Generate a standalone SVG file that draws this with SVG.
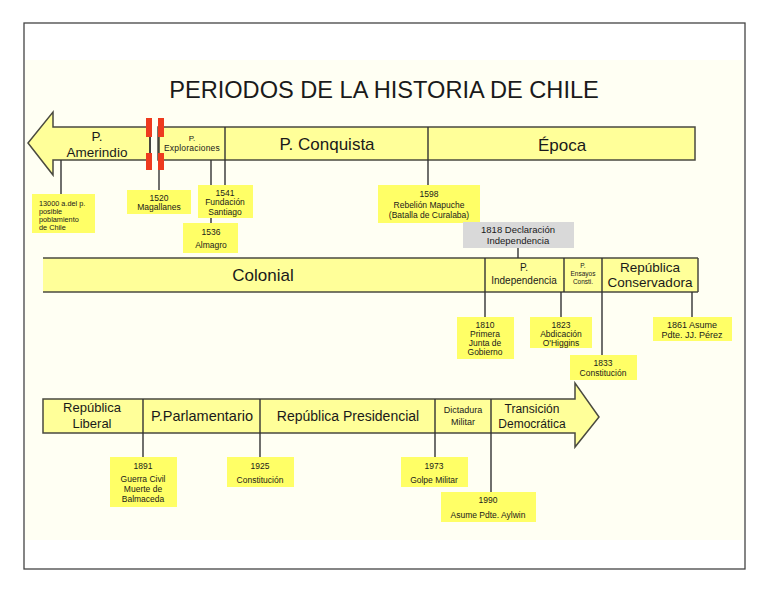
<svg xmlns="http://www.w3.org/2000/svg" width="768" height="594" viewBox="0 0 768 594">
<style>
text{font-family:"Liberation Sans",Arial,sans-serif;fill:#1a1a1a}
.band{fill:#FFFF99;stroke:#4a4a40;stroke-width:1.5}
.bandfill{fill:#FFFF99}
.edge{stroke:#4a4a40;stroke-width:1.5}
.box{fill:#FFFF66}
.gbox{fill:#D9D9D9}
.ln{stroke:#333;stroke-width:1.4}
.red{fill:#EE3A1E}
.ev{font-size:8.5px;text-anchor:middle}
.c{text-anchor:middle}
</style>
<rect x="0" y="0" width="768" height="594" fill="#ffffff"/>
<rect x="25" y="60" width="719" height="480" fill="#FFFFF3"/>
<rect x="24" y="23" width="721" height="546" fill="none" stroke="#444" stroke-width="1.3"/>
<text x="384" y="98" class="c" font-size="23.6">PERIODOS DE LA HISTORIA DE CHILE</text>

<g id="band-top">
<polygon class="band" points="150,127 53,127 53,112 28,143 53,175 53,160 150,160"/>
<rect class="band" x="158" y="127" width="537" height="33"/>
<text x="97" y="141" class="c" font-size="13.5">P.</text>
<text x="97" y="157" class="c" font-size="13.5">Amerindio</text>
<text x="192" y="141" class="c" font-size="8">P.</text>
<text x="192" y="151" class="c" font-size="8.5" letter-spacing="0.2">Exploraciones</text>
<text x="327" y="150" class="c" font-size="17">P. Conquista</text>
<text x="562" y="151" class="c" font-size="17">Época</text>
</g>

<g id="band-middle">
<rect class="bandfill" x="43" y="258" width="655" height="34"/>
<line class="edge" x1="43" y1="258" x2="698" y2="258"/>
<line class="edge" x1="43" y1="292" x2="698" y2="292"/>
<line class="edge" x1="698" y1="258" x2="698" y2="292"/>
<text x="263" y="281" class="c" font-size="17">Colonial</text>
<text x="524" y="271" class="c" font-size="10">P.</text>
<text x="524" y="284" class="c" font-size="10">Independencia</text>
<text x="583" y="268" class="c" font-size="6.5">P.</text>
<text x="583" y="276" class="c" font-size="6.5">Ensayos</text>
<text x="583" y="284" class="c" font-size="6.5">Consti.</text>
<text x="650" y="272" class="c" font-size="13.5">República</text>
<text x="650" y="287" class="c" font-size="13.5">Conservadora</text>
</g>

<g id="band-bottom">
<polygon class="band" points="43,399 575,399 575,383 599,417 575,447 575,433 43,433"/>
<text x="92" y="412" class="c" font-size="13">República</text>
<text x="92" y="428" class="c" font-size="13">Liberal</text>
<text x="202" y="421" class="c" font-size="14.5">P.Parlamentario</text>
<text x="348" y="421" class="c" font-size="14">República Presidencial</text>
<text x="463" y="413" class="c" font-size="9">Dictadura</text>
<text x="463" y="425" class="c" font-size="9">Militar</text>
<text x="532" y="413" class="c" font-size="12">Transición</text>
<text x="532" y="428" class="c" font-size="12">Democrática</text>
</g>

<g id="connectors">
<line class="ln" x1="150" y1="127" x2="150" y2="160"/>
<line class="ln" x1="159" y1="127" x2="159" y2="190"/>
<line class="ln" x1="61" y1="160" x2="61" y2="194"/>
<line class="ln" x1="225" y1="127" x2="225" y2="185"/>
<line class="ln" x1="211" y1="160" x2="211" y2="224"/>
<line class="ln" x1="428" y1="127" x2="428" y2="185"/>
<line class="ln" x1="518" y1="248" x2="518" y2="258"/>
<line class="ln" x1="485" y1="258" x2="485" y2="317"/>
<line class="ln" x1="564" y1="258" x2="564" y2="292"/>
<line class="ln" x1="561" y1="292" x2="561" y2="317"/>
<line class="ln" x1="602" y1="258" x2="602" y2="355"/>
<line class="ln" x1="692" y1="292" x2="692" y2="317"/>
<line class="ln" x1="143" y1="399" x2="143" y2="457"/>
<line class="ln" x1="260" y1="399" x2="260" y2="457"/>
<line class="ln" x1="435" y1="399" x2="435" y2="457"/>
<line class="ln" x1="491" y1="399" x2="491" y2="492"/>
</g>

<g id="break-marks">
<rect class="red" x="146" y="118" width="6" height="19"/>
<rect class="red" x="146" y="153" width="6" height="17"/>
<rect class="red" x="158" y="118" width="6" height="19"/>
<rect class="red" x="158" y="153" width="6" height="17"/>
</g>

<g id="ev-13000">
<rect class="box" x="32" y="194" width="63" height="39"/>
<text x="39" y="206" font-size="7.3">13000 a.del p.</text>
<text x="39" y="214" font-size="7.3">posible</text>
<text x="39" y="222" font-size="7.3">poblamiento</text>
<text x="39" y="230" font-size="7.3">de Chile</text>
</g>
<g id="ev-1520">
<rect class="box" x="127" y="190" width="64" height="24"/>
<text x="159" y="201" class="ev">1520</text>
<text x="159" y="210" class="ev">Magallanes</text>
</g>
<g id="ev-1536">
<rect class="box" x="183" y="223" width="55" height="30"/>
<text x="211" y="235" class="ev">1536</text>
<text x="211" y="248" class="ev">Almagro</text>
</g>
<g id="ev-1541">
<rect class="box" x="198" y="185" width="55" height="33"/>
<text x="225" y="196" class="ev">1541</text>
<text x="225" y="205" class="ev">Fundación</text>
<text x="225" y="215" class="ev">Santiago</text>
</g>
<g id="ev-1598">
<rect class="box" x="378" y="185" width="102" height="38"/>
<text x="429" y="197" class="ev">1598</text>
<text x="429" y="208" class="ev">Rebelión Mapuche</text>
<text x="429" y="218" class="ev">(Batalla de Curalaba)</text>
</g>
<g id="ev-1818">
<rect class="gbox" x="463" y="222" width="111" height="26"/>
<text x="518" y="233" class="c" font-size="9.5">1818 Declaración</text>
<text x="518" y="244" class="c" font-size="9.5">Independencia</text>
</g>
<g id="ev-1810">
<rect class="box" x="457" y="317" width="57" height="42"/>
<text x="485" y="328" class="ev">1810</text>
<text x="485" y="337" class="ev">Primera</text>
<text x="485" y="346" class="ev">Junta de</text>
<text x="485" y="355" class="ev">Gobierno</text>
</g>
<g id="ev-1823">
<rect class="box" x="530" y="317" width="62" height="31"/>
<text x="561" y="328" class="ev">1823</text>
<text x="561" y="337" class="ev">Abdicación</text>
<text x="561" y="346" class="ev">O'Higgins</text>
</g>
<g id="ev-1833">
<rect class="box" x="570" y="355" width="67" height="25"/>
<text x="603" y="366" class="ev">1833</text>
<text x="603" y="376" class="ev">Constitución</text>
</g>
<g id="ev-1861">
<rect class="box" x="653" y="317" width="79" height="24"/>
<text x="692" y="328" class="c" font-size="9">1861 Asume</text>
<text x="692" y="338" class="c" font-size="9">Pdte. JJ. Pérez</text>
</g>
<g id="ev-1891">
<rect class="box" x="110" y="457" width="67" height="50"/>
<text x="143" y="469" class="ev">1891</text>
<text x="143" y="482" class="ev">Guerra Civil</text>
<text x="143" y="492" class="ev">Muerte de</text>
<text x="143" y="502" class="ev">Balmaceda</text>
</g>
<g id="ev-1925">
<rect class="box" x="227" y="457" width="67" height="30"/>
<text x="260" y="469" class="ev">1925</text>
<text x="260" y="483" class="ev">Constitución</text>
</g>
<g id="ev-1973">
<rect class="box" x="401" y="457" width="67" height="30"/>
<text x="434" y="469" class="ev">1973</text>
<text x="434" y="483" class="ev">Golpe Militar</text>
</g>
<g id="ev-1990">
<rect class="box" x="441" y="492" width="95" height="30"/>
<text x="488" y="503" class="ev">1990</text>
<text x="488" y="518" class="ev">Asume Pdte. Aylwin</text>
</g>
</svg>
